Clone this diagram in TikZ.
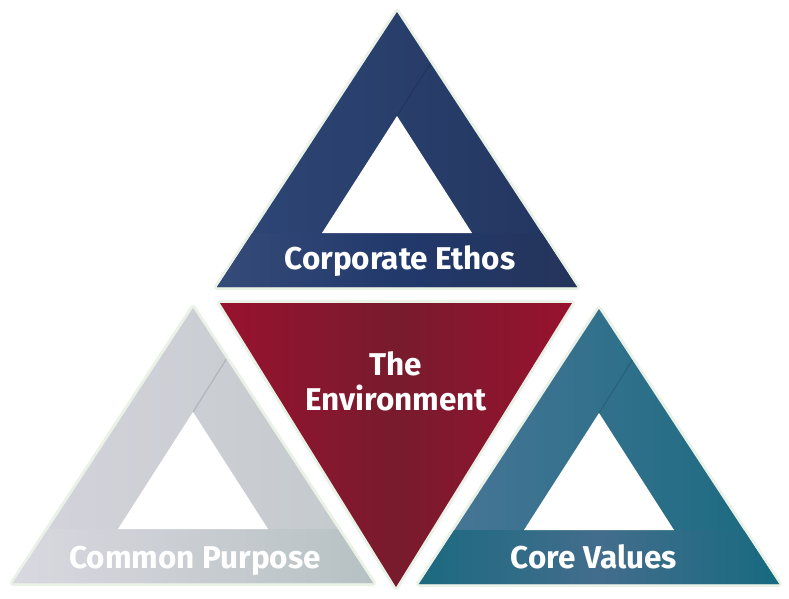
\documentclass[tikz,border=0pt]{standalone}
\usepackage{fontspec}
\setsansfont{Fira Sans}

\definecolor{navyA}{HTML}{2E4777}
\definecolor{navyB}{HTML}{23355F}
\definecolor{navyC}{HTML}{354B78}
\definecolor{navyD}{HTML}{22396C}
\definecolor{navyE}{HTML}{25345A}
\definecolor{greyA}{HTML}{D4D4DC}
\definecolor{greyB}{HTML}{C3C9CC}
\definecolor{greyC}{HTML}{D9D8E0}
\definecolor{greyD}{HTML}{C9CDD2}
\definecolor{greyE}{HTML}{B6C1C3}
\definecolor{tealA}{HTML}{4B7797}
\definecolor{tealB}{HTML}{196A80}
\definecolor{tealC}{HTML}{1B6A80}
\definecolor{tealD}{HTML}{436D8C}
\definecolor{tealE}{HTML}{166A80}
\definecolor{redA}{HTML}{98122F}
\definecolor{redB}{HTML}{781B2D}
\definecolor{glowc}{HTML}{DCE8D6}

\begin{document}
\begin{tikzpicture}[x=1pt, y=-1pt,
	glow/.style = {draw=glowc, line width=6pt, line join=round, opacity=0.6},
	hole/.style = {fill=white},
	fold/.style = {draw=black, opacity=0.12, line width=1.2pt},
	lbl/.style = {text=white, font=\sffamily\bfseries\fontsize{31.5}{35}\selectfont, align=center}]
\useasboundingbox (0,0) rectangle (789,598);

\foreach \cx/\cy/\ua/\ub/\ba/\bm/\bb in {397/12/navyA/navyB/navyC/navyD/navyE,
		193/308/greyA/greyB/greyC/greyD/greyE,
		599/309/tealA/tealB/tealC/tealD/tealE} {
	\begin{scope}[shift={(\cx,\cy)}]
	\path[glow] (0,0) -- (180,275) -- (-180,275) -- cycle;
	\shade[left color=\ua, right color=\ub] (0,0) -- (180,275) -- (-180,275) -- cycle;
	\shade[left color=\ba, right color=\bb, middle color=\bm] (-180,275) -- (180,275) -- (144.7,221) -- (-144.7,221) -- cycle;
	\fill[hole] (0,104) -- (75,221) -- (-75,221) -- cycle;
	\draw[fold] (33.4,51) -- (0,104);
	\end{scope}
}

\path[glow] (220,303) -- (572,303) -- (396,587) -- cycle;
\shade[left color=redA, right color=redA, middle color=redB] (220,303) -- (572,303) -- (396,587) -- cycle;

\node[lbl, anchor=base] (ethos) at (400,269) {Corporate Ethos};
\node[lbl, anchor=base] (purpose) at (195,568) {Common Purpose};
\node[lbl, anchor=base] (values) at (594,568) {Core Values};
\node[lbl] (env) at (396,381) {The\\Environment};
\end{tikzpicture}
\end{document}
